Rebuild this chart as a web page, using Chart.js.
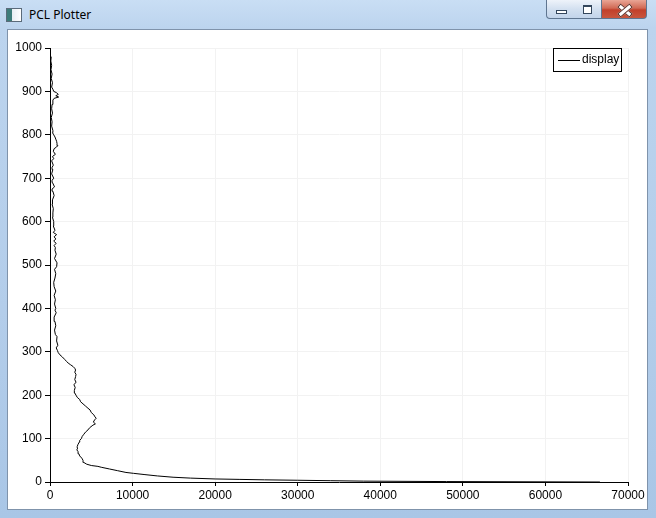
<!DOCTYPE html>
<html>
<head>
<meta charset="utf-8">
<script src="https://cdn.jsdelivr.net/npm/chart.js@4.4.0/dist/chart.umd.js"></script>
<style>
  html, body { margin: 0; padding: 0; }
  body { width: 656px; height: 518px; position: relative; overflow: hidden;
         background: linear-gradient(180deg, #c9def4 0px, #bcd4ee 28px, #b3cdea 60%, #a9c6e6 100%); }
  #title { position: absolute; left: 29px; top: 6px; font: 12px "Noto Sans", "DejaVu Sans", sans-serif; color: #000; }
  #icon { position: absolute; left: 6px; top: 8px; width: 14px; height: 12px; border: 1px solid #5b6b7a;
          background: linear-gradient(90deg, #3d7c7a 0, #3d7c7a 5px, #e8eef3 5px, #ffffff 100%); }
  .btn { position: absolute; top: 0; height: 18px; border: 1px solid #5f7590; border-top: none; box-sizing: content-box; }
  #bmin { left: 546px; width: 27px; border-radius: 0 0 0 4px; background: linear-gradient(#eef3fa, #d3e0f0 50%, #c2d4ea); }
  #bmax { left: 574px; width: 27px; border-left: none; background: linear-gradient(#eef3fa, #d3e0f0 50%, #c2d4ea); }
  #bclose { left: 602px; width: 44px; border-left: none; border-radius: 0 0 4px 0; background: linear-gradient(#e9a595, #d16a55 45%, #c2402b 55%, #c9553d); }
  #bmin i { position: absolute; left: 9px; top: 10px; width: 9px; height: 2px; background: #fff; border: 1px solid #33465c; }
  #bmax i { position: absolute; left: 9px; top: 5px; width: 7px; height: 6px; border: 1px solid #33465c; border-top-width: 2px; background: #fff; }
  #bclose i, #bclose b { position: absolute; left: 15px; top: 8px; width: 14px; height: 3px; background: #fff; border: 1px solid #5a2a22; }
  #bclose i { transform: rotate(40deg); }
  #bclose b { transform: rotate(-40deg); }
  #client { position: absolute; left: 7px; top: 29px; width: 639px; height: 479px; background: #fff; border: 1px solid #7f93ab; }
  #c { position: absolute; left: 0; top: 0; }
</style>
</head>
<body>
<div id="icon"></div>
<div id="title">PCL Plotter</div>
<div class="btn" id="bmin"><i></i></div>
<div class="btn" id="bmax"><i></i></div>
<div class="btn" id="bclose"><i></i><b></b></div>
<div id="client"></div>
<canvas id="c" width="656" height="518"></canvas>
<script>
// histogram rows (bin index on y, count on x)
const binIndex = [
  0, 1, 2, 3, 4, 5, 6, 7, 9, 11, 14, 17, 20, 22, 26, 30, 34, 36, 38, 41,
  45, 50, 55, 60, 65, 70, 74, 78, 82, 87, 92, 96, 100, 105, 110, 115, 120, 125, 131, 134,
  138, 143, 147, 150, 155, 160, 166, 170, 175, 180, 185, 190, 195, 200, 205, 211, 218, 224, 230, 236,
  243, 248, 253, 258, 262, 266, 270, 274, 278, 282, 288, 293, 298, 303, 309, 315, 325, 335, 340, 350,
  360, 370, 380, 390, 396, 400, 410, 420, 430, 440, 450, 460, 470, 480, 490, 496, 505, 515, 525, 534,
  540, 545, 550, 555, 560, 565, 570, 575, 580, 590, 600, 610, 620, 630, 640, 650, 660, 670, 675, 680,
  690, 695, 700, 710, 720, 725, 730, 740, 745, 750, 755, 762, 768, 772, 775, 780, 785, 790, 795, 800,
  805, 810, 820, 830, 840, 850, 860, 870, 880, 884, 887, 890, 893, 897, 900, 905, 910, 920, 930, 940,
  950, 960, 970, 980
];
const pointCount = [
  66600, 48000, 38000, 34000, 30000, 26000, 23000, 20000, 17000, 14900, 13000, 11500, 10100, 9200, 8200, 7200, 6200, 5800, 5000, 4450,
  4100, 4000, 3850, 3600, 3500, 3400, 3250, 3350, 3300, 3400, 3550, 3600, 3800, 3900, 4100, 4300, 4600, 4800, 5200, 5500,
  5250, 5400, 5600, 5450, 5300, 5000, 4850, 4600, 4300, 4000, 3700, 3600, 3300, 3150, 3000, 2950, 3050, 2900, 3150, 3000,
  3100, 3150, 3000, 3100, 3000, 2800, 2500, 2200, 2000, 1800, 1500, 1200, 1000, 900, 750, 950, 800, 850, 650, 550,
  700, 600, 500, 750, 600, 700, 550, 650, 500, 700, 500, 450, 600, 700, 550, 800, 850, 550, 750, 600,
  650, 500, 750, 450, 700, 500, 800, 400, 600, 400, 450, 300, 350, 400, 250, 300, 500, 350, 250, 550,
  300, 250, 450, 200, 350, 250, 400, 200, 450, 300, 650, 400, 500, 800, 950, 850, 800, 700, 600, 450,
  300, 350, 200, 250, 150, 300, 200, 250, 350, 500, 1050, 700, 1000, 800, 450, 350, 200, 300, 150, 250,
  120, 200, 100, 150
];
const xTicks = [0, 10000, 20000, 30000, 40000, 50000, 60000, 70000];
const yTicks = [0, 100, 200, 300, 400, 500, 600, 700, 800, 900, 1000];
const seriesName = 'display';

const tickFont = { family: '"Liberation Sans", Arial, sans-serif', size: 12 };

// legend box in the top right corner of the plot
const legendBox = {
  id: 'legendBox',
  afterDraw(chart) {
    const ctx = chart.ctx;
    const a = chart.chartArea;
    const right = a.right - 6, top = a.top, w = 69, h = 24;
    ctx.save();
    ctx.fillStyle = '#fff';
    ctx.fillRect(right - w, top, w, h);
    ctx.strokeStyle = '#000';
    ctx.lineWidth = 1;
    ctx.strokeRect(right - w + 0.5, top + 0.5, w - 1, h - 1);
    ctx.beginPath();
    ctx.moveTo(right - w + 5, top + 12.5);
    ctx.lineTo(right - w + 27, top + 12.5);
    ctx.stroke();
    ctx.fillStyle = '#000';
    ctx.font = '12px "Liberation Sans", Arial, sans-serif';
    ctx.textBaseline = 'middle';
    ctx.fillText(seriesName, right - w + 29, top + 12);
    ctx.restore();
  }
};

new Chart(document.getElementById('c'), {
  type: 'scatter',
  data: {
    datasets: [{
      label: seriesName,
      data: binIndex.map((b, i) => ({ x: pointCount[i], y: b })),
      showLine: true,
      borderColor: '#000',
      borderWidth: 1,
      pointRadius: 0,
      tension: 0
    }]
  },
  options: {
    responsive: false,
    animation: false,
    layout: { padding: { left: 9, right: 28, top: 48, bottom: 10 } },
    plugins: { legend: { display: false }, tooltip: { enabled: false } },
    scales: {
      x: {
        type: 'linear', min: 0, max: 70000,
        afterBuildTicks: s => { s.ticks = xTicks.map(v => ({ value: v })); },
        afterFit: s => { s.height = 26; },
        grid: { color: '#f2f2f2', tickColor: '#000', tickLength: 4 },
        border: { color: '#000', width: 1 },
        ticks: { color: '#000', font: tickFont, padding: 2, maxRotation: 0, autoSkip: false,
                 callback: v => String(v) }
      },
      y: {
        type: 'linear', min: 0, max: 1000,
        afterBuildTicks: s => { s.ticks = yTicks.map(v => ({ value: v })); },
        afterFit: s => { s.width = 41; },
        grid: { color: '#f2f2f2', tickColor: '#000', tickLength: 5 },
        border: { color: '#000', width: 1 },
        ticks: { color: '#000', font: tickFont, padding: 3, autoSkip: false,
                 callback: v => String(v) }
      }
    }
  },
  plugins: [legendBox]
});
</script>
</body>
</html>
